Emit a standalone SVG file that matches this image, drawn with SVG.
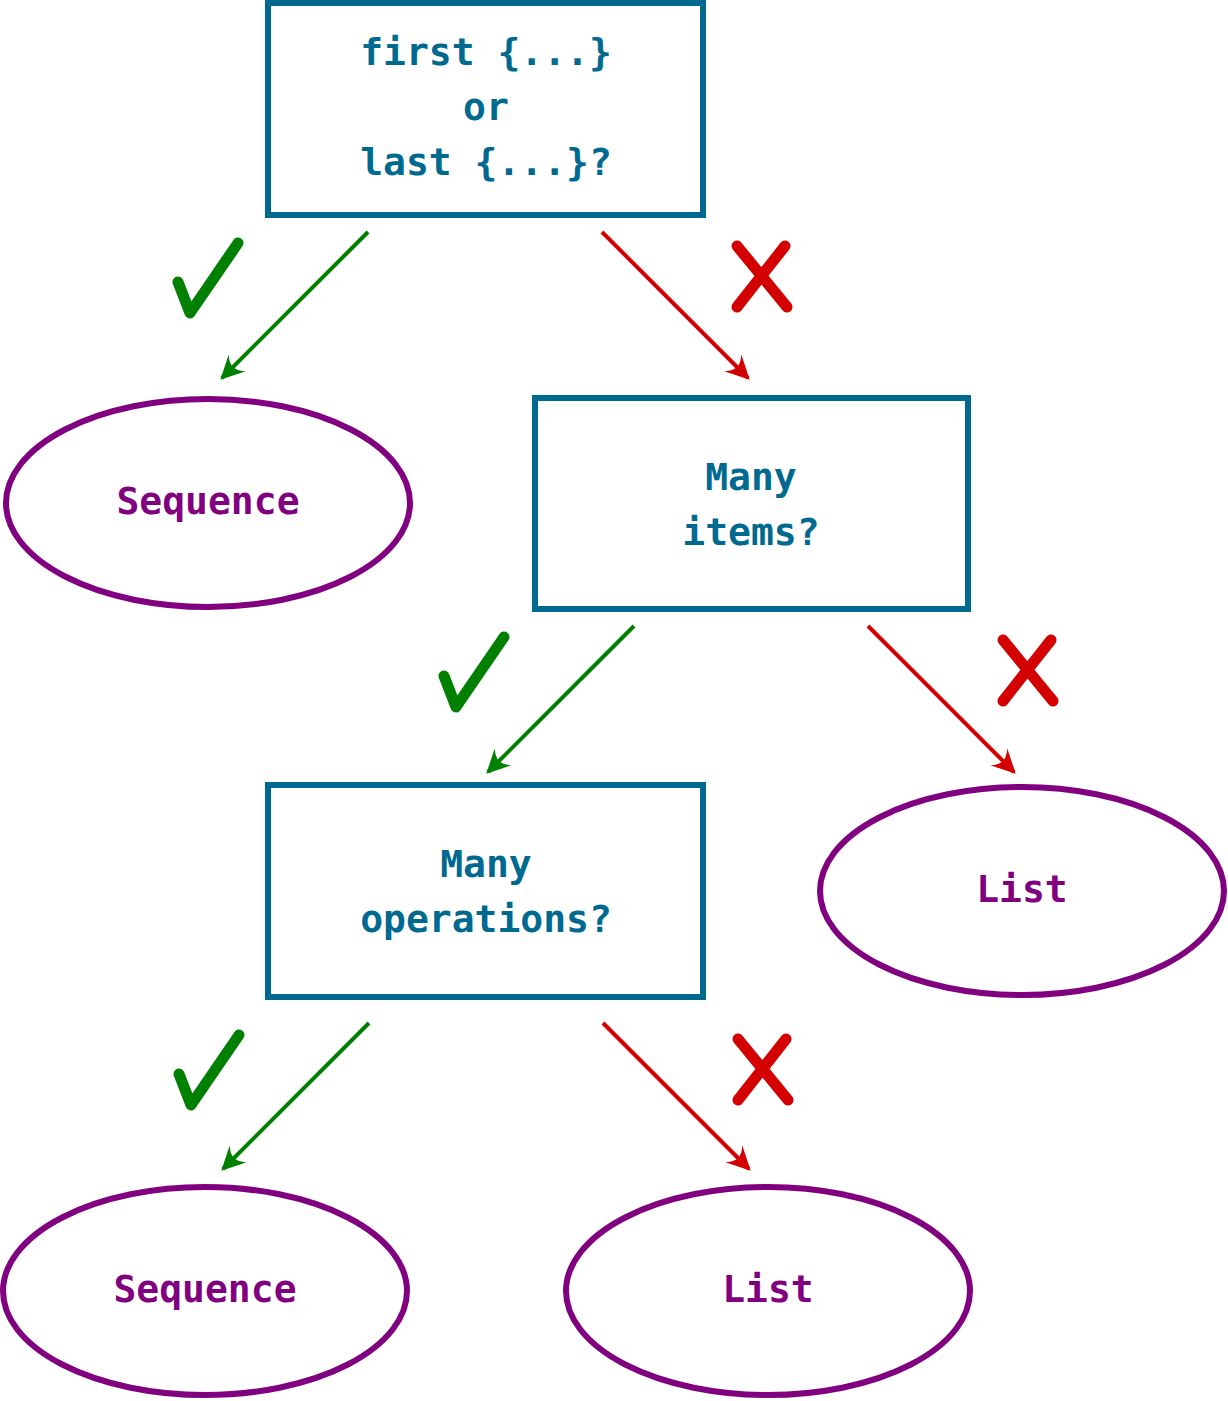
<svg xmlns="http://www.w3.org/2000/svg" width="1228" height="1401" viewBox="0 0 1228 1401">
<style>
.box{fill:#fff;stroke:#006990;stroke-width:6}
.ell{fill:#fff;stroke:#800080;stroke-width:6}
.bt{font-family:"DejaVu Sans Mono",monospace;font-weight:bold;font-size:38px;fill:#006990;text-anchor:middle}
.et{font-family:"DejaVu Sans Mono",monospace;font-weight:bold;font-size:38px;fill:#800080;text-anchor:middle}
.g{stroke:#008000;stroke-width:4;fill:none}
.r{stroke:#d40000;stroke-width:4;fill:none}
.ck{stroke:#008000;stroke-width:11;fill:none;stroke-linecap:round;stroke-linejoin:round}
.cx{stroke:#d40000;stroke-width:11;fill:none;stroke-linecap:round}
</style>
<defs>
<marker id="ag" viewBox="0 0 10 10" refX="9" refY="5" markerWidth="6" markerHeight="6" orient="auto" markerUnits="strokeWidth"><path d="M0,0 Q5,5 0,10 L10,5 Z" fill="#008000"/></marker>
<marker id="ar" viewBox="0 0 10 10" refX="9" refY="5" markerWidth="6" markerHeight="6" orient="auto" markerUnits="strokeWidth"><path d="M0,0 Q5,5 0,10 L10,5 Z" fill="#d40000"/></marker>
</defs>
<g id="q1"><rect class="box" x="268" y="3" width="435" height="212"/><text class="bt" x="486" y="65">first {...}</text><text class="bt" x="486" y="120">or</text><text class="bt" x="486" y="175">last {...}?</text></g>
<g id="seq1"><ellipse class="ell" cx="208" cy="503" rx="202" ry="104"/><text class="et" x="208" y="514">Sequence</text></g>
<g id="q2"><rect class="box" x="535" y="398" width="433" height="211"/><text class="bt" x="751" y="490">Many</text><text class="bt" x="751" y="545">items?</text></g>
<g id="list1"><ellipse class="ell" cx="1022" cy="891" rx="202" ry="104"/><text class="et" x="1022" y="902">List</text></g>
<g id="q3"><rect class="box" x="268" y="785" width="435" height="212"/><text class="bt" x="486" y="877">Many</text><text class="bt" x="486" y="932">operations?</text></g>
<g id="seq2"><ellipse class="ell" cx="205" cy="1291" rx="202" ry="104"/><text class="et" x="205" y="1302">Sequence</text></g>
<g id="list2"><ellipse class="ell" cx="768" cy="1291" rx="202" ry="104"/><text class="et" x="768" y="1302">List</text></g>
<g id="connectors">
<line class="g" x1="368" y1="232" x2="222" y2="378" marker-end="url(#ag)"/>
<line class="r" x1="602" y1="232" x2="748" y2="378" marker-end="url(#ar)"/>
<line class="g" x1="634" y1="626" x2="488" y2="772" marker-end="url(#ag)"/>
<line class="r" x1="868" y1="626" x2="1014" y2="772" marker-end="url(#ar)"/>
<line class="g" x1="369" y1="1023" x2="223" y2="1169" marker-end="url(#ag)"/>
<line class="r" x1="603" y1="1023" x2="749" y2="1169" marker-end="url(#ar)"/>
<path class="ck" d="M178,282 L190,313 L238,243"/>
<path class="cx" d="M737,246 L787,307 M785,246 L737,307"/>
<path class="ck" d="M444,676 L456,707 L504,637"/>
<path class="cx" d="M1003,640 L1053,701 M1051,640 L1003,701"/>
<path class="ck" d="M179,1074 L191,1105 L239,1035"/>
<path class="cx" d="M738,1039 L788,1100 M786,1039 L738,1100"/>
</g>
</svg>
